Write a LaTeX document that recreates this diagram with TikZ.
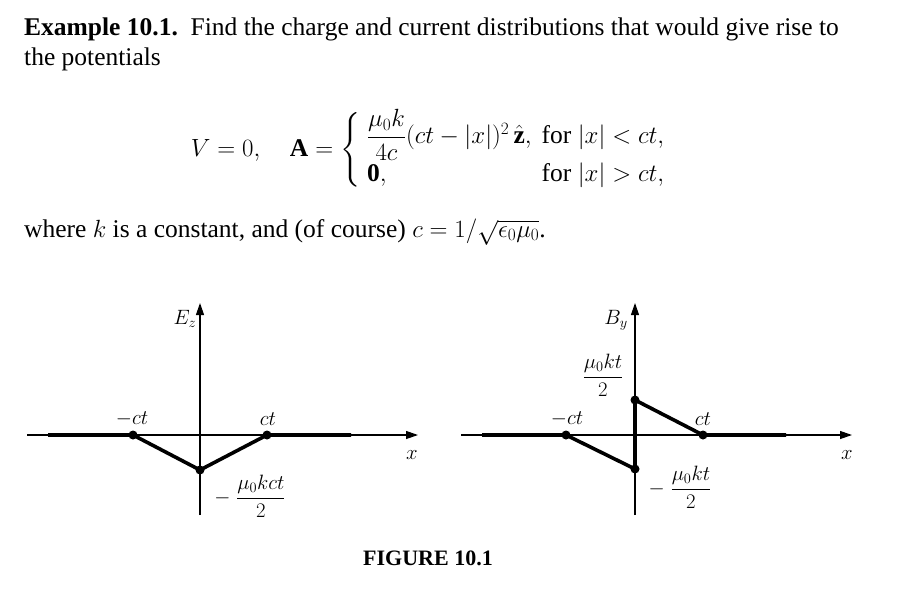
\documentclass[tikz,border=0pt]{standalone}
\usepackage{amsmath}
\usepackage{fontspec}
\setmainfont{Liberation Serif}
\usetikzlibrary{arrows.meta}
\begin{document}
\begin{tikzpicture}[x=1pt,y=-1pt,
  ax/.style={line width=1.2pt,-{Triangle[length=12pt,width=8pt]}},
  thk/.style={line width=3.6pt},
  dot/.style={circle,fill,inner sep=0pt,minimum size=9pt},
  lbl/.style={font=\fontsize{20}{22}\selectfont},
  txt/.style={font=\fontsize{25.5}{30}\selectfont,anchor=base west,inner sep=0pt}]
\useasboundingbox (0,0) rectangle (914,608);
\node[txt] (t1) at (24,35) {\textbf{Example 10.1.}\enspace Find the charge and current distributions that would give rise to};
\node[txt] (t2) at (24,65) {the potentials};
\node[font=\fontsize{25.5}{30}\selectfont] (eq) at (430,150) {$V=0,\quad \mathbf{A}=\Biggl\{\;\begin{array}{@{}ll}\dfrac{\mu_0k}{4c}(ct-|x|)^2\,\hat{\mathbf{z}}, & \text{for } |x|<ct,\\[2pt] \mathbf{0}, & \text{for } |x|>ct,\end{array}$};
\node[txt] (t3) at (24,237) {where $k$ is a constant, and (of course) $c=1/\sqrt{\epsilon_0\mu_0}$.};
\node[font=\fontsize{22}{26}\selectfont\bfseries] (fig) at (428,558) {FIGURE 10.1};
% left
\coordinate (ly0) at (200,515); \coordinate (ly1) at (200,303);
\coordinate (lx0) at (27,435); \coordinate (lx1) at (418,435);
\draw[ax] (ly0) -- (ly1); \draw[ax] (lx0) -- (lx1);
\node[dot] (la) at (133,435) {}; \node[dot] (lb) at (200,470) {}; \node[dot] (lc) at (267,435) {};
\coordinate (ll) at (48,435); \coordinate (lr) at (351,435);
\draw[thk] (ll) -- (la.center) -- (lb.center) -- (lc.center) -- (lr);
\node[lbl] (lez) at (185,319) {$E_z$};
\node[lbl] (lm) at (132,419) {$-ct$};
\node[lbl] (lp) at (268,419) {$ct$};
\node[lbl] (lxx) at (412,455) {$x$};
\node[lbl] (lv) at (250,496) {$-\;\dfrac{\mu_0kct}{2}$};
% right
\coordinate (ry0) at (635,515); \coordinate (ry1) at (635,303);
\coordinate (rx0) at (461,435); \coordinate (rx1) at (852,435);
\draw[ax] (ry0) -- (ry1); \draw[ax] (rx0) -- (rx1);
\node[dot] (ra) at (566,435) {}; \node[dot] (rb) at (635,469) {}; \node[dot] (rc) at (635,400) {}; \node[dot] (rd) at (703,435) {};
\coordinate (rl) at (482,435); \coordinate (rr) at (786,435);
\draw[thk] (rl) -- (ra.center) -- (rb.center) -- (rc.center) -- (rd.center) -- (rr);
\node[lbl] (rby) at (616,320) {$B_y$};
\node[lbl] (rt) at (603,375) {$\dfrac{\mu_0kt}{2}$};
\node[lbl] (rv) at (680,487) {$-\;\dfrac{\mu_0kt}{2}$};
\node[lbl] (rm) at (567,419) {$-ct$};
\node[lbl] (rp) at (703,419) {$ct$};
\node[lbl] (rxx) at (847,455) {$x$};
\end{tikzpicture}
\end{document}
